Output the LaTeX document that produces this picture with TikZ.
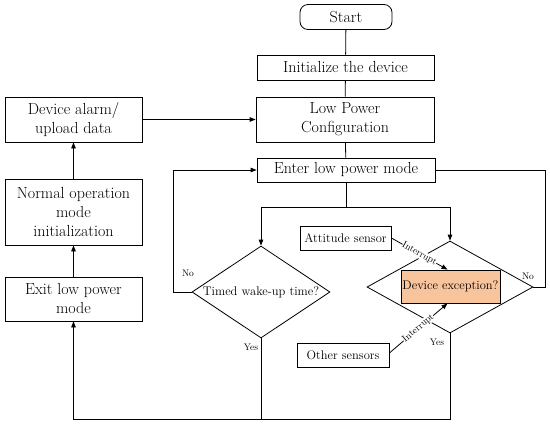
\documentclass[tikz,border=0pt]{standalone}
\usetikzlibrary{shapes.geometric,arrows.meta}
\definecolor{excfill}{HTML}{F8C49C}
\begin{document}
\begin{tikzpicture}[x=1pt,y=-1pt,
  every node/.style={inner sep=1pt},
  box/.style={draw,thick,rectangle,align=center,font=\fontsize{16}{19}\selectfont},
  sbox/.style={draw,thick,rectangle,align=center,font=\fontsize{12.5}{14}\selectfont},
  dia/.style={draw,thick,diamond,inner sep=0pt},
  lbl/.style={font=\fontsize{9.5}{10}\selectfont},
  line/.style={thick},
  arr/.style={thick,-{Triangle[length=6pt,width=4.5pt]}}]
\useasboundingbox (0,0) rectangle (550,424);
% main column
\node[box,rounded corners=8pt,minimum width=92,minimum height=25] (start) at (346,17) {Start};
\node[box,minimum width=177,minimum height=25] (init) at (345.5,67.5) {Initialize the device};
\node[box,minimum width=178,minimum height=45] (lpc) at (345,119.5) {Low Power\\Configuration};
\node[box,minimum width=178,minimum height=24] (enter) at (346,170) {Enter low power mode};
% left column
\node[box,minimum width=137,minimum height=45] (alarm) at (73.5,119.5) {Device alarm/\\upload data};
\node[box,minimum width=137,minimum height=66] (normal) at (73.5,212) {Normal operation\\mode\\initialization};
\node[box,minimum width=137,minimum height=44] (exit) at (73.5,299) {Exit low power\\mode};
% decisions
\node[dia,minimum width=138,minimum height=92] (timed) at (261,292) {};
\node[font=\fontsize{12.5}{14}\selectfont] (timedtxt) at (timed.center) {Timed wake-up time?};
\node[dia,minimum width=166,minimum height=92] (device) at (450,287) {};
\node[sbox,fill=excfill,minimum width=99,minimum height=33,inner sep=0.5pt] (exc) at (450.5,286.5) {Device exception?};
% sensors
\node[sbox,minimum width=91,minimum height=24] (att) at (345.5,238) {Attitude sensor};
\node[sbox,minimum width=92,minimum height=24] (other) at (343,355) {Other sensors};
% helper coordinates
\coordinate (split) at (346,207);
\coordinate (splitL) at (261,207);
\coordinate (splitR) at (450,207);
\coordinate (noL1) at (173,292);
\coordinate (noL2) at (173,170);
\coordinate (noR1) at (545,287);
\coordinate (noR2) at (545,170);
\coordinate (botT) at (261,419);
\coordinate (botD) at (450,419);
\coordinate (botE) at (73.5,419);
% connectors
\draw[line] (start) -- (init);
\draw[line] (init) -- (lpc);
\draw[line] (lpc) -- (enter);
\draw[arr] (alarm) -- (lpc);
\draw[arr] (normal) -- (alarm);
\draw[arr] (exit) -- (normal);
\draw[line] (enter.south) -- (split);
\draw[line] (splitL) -- (splitR);
\draw[arr] (splitL) -- (timed.north);
\draw[arr] (splitR) -- (device.north);
\draw[arr] (timed.west) -- (noL1) -- (noL2) -- (enter.west);
\draw[line] (device.east) -- (noR1) -- (noR2) -- (enter.east);
\draw[line] (timed.south) -- (botT);
\draw[arr] (device.south) -- (botD) -- (botE) -- (exit.south);
\draw[arr] (att.east) -- node[lbl,sloped,fill=white,inner sep=0.2pt] (int1) {Interrupt} ([xshift=-3pt]exc.north);
\draw[arr] ([yshift=2pt]other.east) -- node[lbl,sloped,fill=white,inner sep=0.2pt] (int2) {Interrupt} ([xshift=-3pt]exc.south);
% labels
\node[lbl] (no1) at (188,273) {No};
\node[lbl] (yes1) at (251,347) {Yes};
\node[lbl] (no2) at (528,276) {No};
\node[lbl] (yes2) at (437,342) {Yes};
\end{tikzpicture}
\end{document}
